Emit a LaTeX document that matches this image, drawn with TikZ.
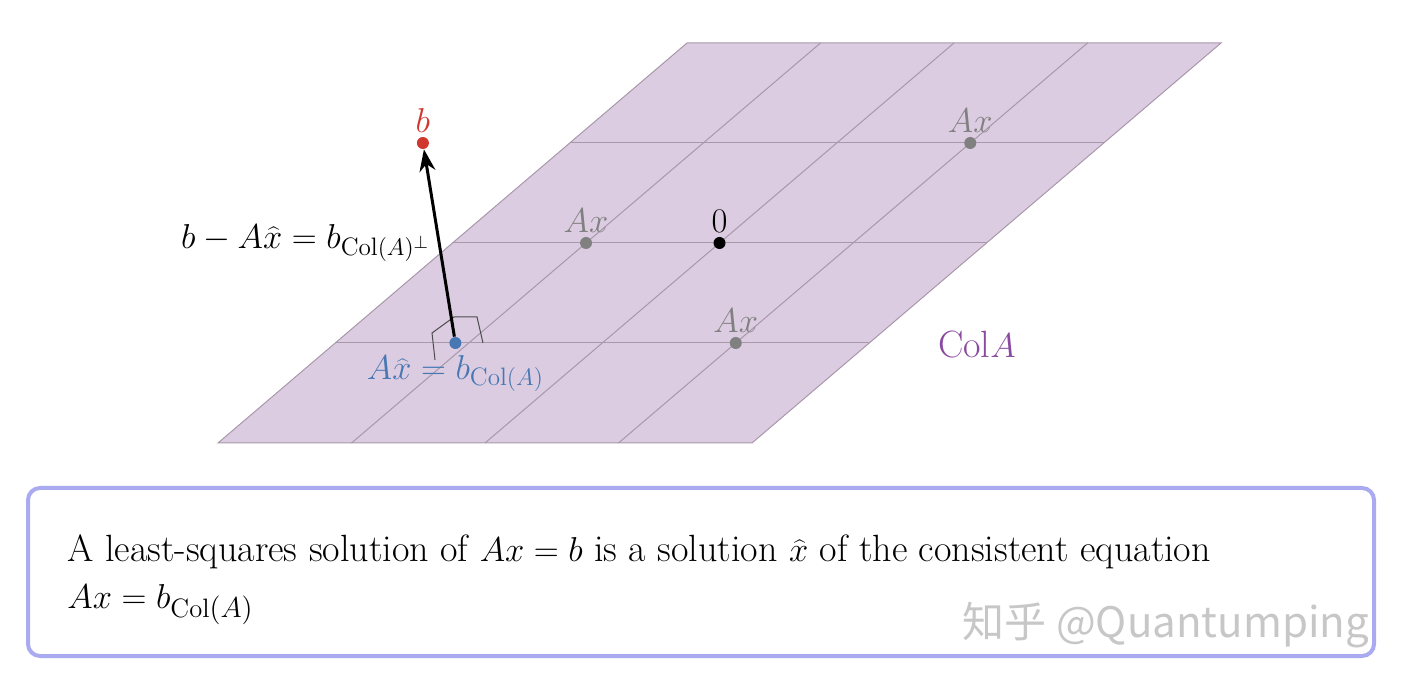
\documentclass[tikz,border=0pt]{standalone}
\usepackage{fontspec}
\newfontfamily\cjkfont{Noto Sans CJK SC}
\usepackage{tikz}
\usetikzlibrary{positioning,arrows.meta}
\definecolor{planefill}{RGB}{220, 204, 225}
\definecolor{gridline}{RGB}{168, 152, 170}
\definecolor{vecred}{RGB}{208, 56, 46}
\definecolor{projblue}{RGB}{72, 120, 180}
\definecolor{colpurple}{RGB}{138, 74, 160}
\definecolor{boxedge}{RGB}{170, 170, 240}

\begin{document}
\begin{tikzpicture}[x=0.5pt, y=-0.5pt, font=\fontsize{16}{20}\selectfont,
    dot/.style={circle, inner sep=0pt, minimum size=6pt},
    tag/.style={inner sep=1pt}]
\useasboundingbox (0,0) rectangle (1412,688);

% Column space plane, drawn in slanted axes
\begin{scope}[shift={(218,443)}, x={(66.75pt,0pt)}, y={(58.625pt,50pt)}]
\fill[planefill] (0,0) -- (4,0) -- (4,4) -- (0,4) -- cycle;
\draw[gridline, line width=0.5pt] (0,0) -- (4,0) -- (4,4) -- (0,4) -- cycle;
\foreach \i in {1,2,3} {
    \draw[gridline, line width=0.5pt] (\i,0) -- (\i,4);
    \draw[gridline, line width=0.5pt] (0,\i) -- (4,\i);
}

% Points in the plane
\node[dot, fill=black] (zero) at (2,2) {};
\node[dot, fill=gray] (axone) at (1,2) {};
\node[dot, fill=gray] (axtwo) at (3,3) {};
\node[dot, fill=gray] (axthree) at (3,1) {};
\node[dot, fill=projblue] (bhat) at (0.9,1) {};
\node[dot, fill=vecred] (b) at (-1.1,3) {};
\end{scope}

% Right angle mark
\draw[black!70, line width=0.5pt] (435,360) -- (432,333) -- (454,317) -- (477,317) -- (483,343);

% Residual vector
\draw[line width=1.5pt, -{Stealth[length=11pt, width=8pt]}] (bhat) -- (b);

% Labels
\node[tag, above=1pt of zero] (zerolabel) {$0$};
\node[tag, text=gray, above=1pt of axone] (axonelabel) {$Ax$};
\node[tag, text=gray, above=1pt of axtwo] (axtwolabel) {$Ax$};
\node[tag, text=gray, above=1pt of axthree] (axthreelabel) {$Ax$};
\node[tag, text=vecred, above=1pt of b] (blabel) {$b$};
\node[tag, text=projblue, below=2pt of bhat, font=\fontsize{18}{20}\selectfont] (bhatlabel) {$A\widehat{x}=b_{\mathrm{Col}(A)}$};
\node[anchor=west, font=\fontsize{18}{20}\selectfont] (residlabel) at (174,243) {$b-A\widehat{x}=b_{\mathrm{Col}(A)^{\perp}}$};
\node[text=colpurple, font=\fontsize{19}{20}\selectfont] (collabel) at (977,345) {Col$A$};

% Statement box
\draw[boxedge, line width=2pt, rounded corners=6pt] (28,488) rectangle (1374,656);
\node[anchor=north west, align=left, inner sep=0pt, font=\fontsize{19}{23.5}\selectfont] (statement) at (67,534)
    {A least-squares solution of $Ax=b$ is a solution $\widehat{x}$ of the consistent equation\\
     $Ax=b_{\mathrm{Col}(A)}$};
\node[text=black!22, anchor=east] (mark) at (1376,625) {\fontsize{21}{21}\selectfont\cjkfont 知乎 @Quantumping};
\end{tikzpicture}
\end{document}
